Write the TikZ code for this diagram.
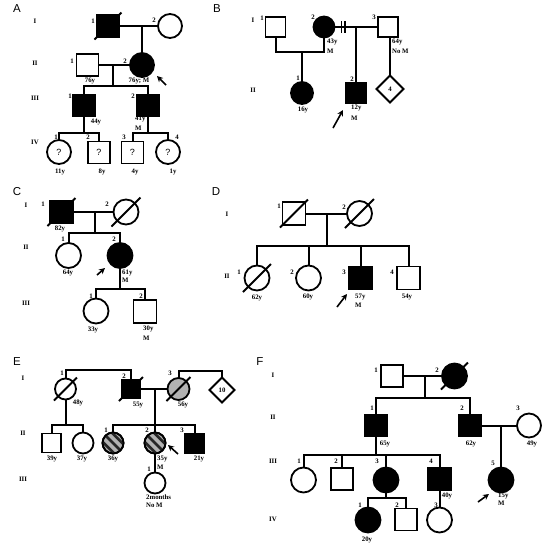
\documentclass[tikz,border=0pt]{standalone}
\usepackage{fontspec}
\setmainfont{Liberation Serif}
\newfontfamily\panelfont{Liberation Sans}
\usetikzlibrary{arrows.meta,shapes.geometric}
\newcommand\deceased[2][14]{\draw[dead] (#2.center) ++(-#1,#1) -- ++(2*#1,-2*#1);}
\newcommand\lb[4][lab]{\node[#1] (#2) at (#3) {#4};}
\newcommand\hatchit[2][9.6pt]{\begin{scope}\clip (#2.center) circle (#1);
  \foreach \k in {-2,...,2} \draw[line width=2.6pt, black!85] (#2.center) ++({4.6*\k-14},{-4.6*\k-14}) -- ++(28,28);
  \end{scope}}
\tikzset{
 sym/.style={draw, line width=1.8pt, inner sep=0pt, outer sep=0pt},
 sq/.style={sym, rectangle, minimum size=#1}, sq/.default=22pt,
 ci/.style={sym, circle, minimum size=#1}, ci/.default=24pt,
 aff/.style={fill=black},
 lab/.style={font=\bfseries\fontsize{6.8}{7}\selectfont, inner sep=0pt},
 labw/.style={lab, anchor=west},
 gen/.style={font=\bfseries\fontsize{6.8}{7}\selectfont, inner sep=0pt},
 panel/.style={font=\panelfont\fontsize{11.5}{13}\selectfont, inner sep=0pt},
 ln/.style={line width=2pt},
 dead/.style={line width=1.8pt},
 prob/.style={line width=1.6pt, -{Stealth[length=6pt,width=6pt]}},
 qm/.style={font=\panelfont\fontsize{9}{10}\selectfont},
 dia/.style={sym, diamond, minimum width=#1, minimum height=#1, font=\bfseries\fontsize{6.8}{7}\selectfont},
}
\begin{document}
\begin{tikzpicture}[x=1pt,y=-1pt]
\fill[white] (0,0) rectangle (548,550);
\useasboundingbox (0,0) rectangle (548,550);

% ================= A
\node[panel] (pA) at (17,9) {A};
\node[gen] (gA1) at (35,21) {I};
\node[gen] (gA2) at (35,63) {II};
\node[gen] (gA3) at (35,98) {III};
\node[gen] (gA4) at (35,142) {IV};
\node[sq,aff] (A11) at (108,26) {};
\node[ci] (A12) at (170,26) {};
\deceased[13.5]{A11}
\draw[ln] (A11) -- (A12);
\coordinate (mA1) at (142,26);
\node[sq] (A21) at (87.5,65) {};
\node[ci,aff] (A22) at (142,65) {};
\draw[ln] (mA1) -- (A22.north);
\draw[ln] (A21) -- (A22);
\coordinate (mA2) at (113,65);
\coordinate (sA2) at (113,86);
\draw[ln] (mA2) -- (sA2);
\node[sq,aff] (A31) at (84,105.5) {};
\node[sq,aff] (A32) at (148,105.5) {};
\draw[ln] (A31.north) |- (sA2) -| (A32.north);
\coordinate (sA3) at (84,133);
\coordinate (sA4) at (148,133);
\draw[ln] (A31.south) -- (sA3);
\draw[ln] (A32.south) -- (sA4);
\node[ci,qm] (A41) at (59,152) {?};
\node[sq,qm] (A42) at (99,152.5) {?};
\node[sq,qm] (A43) at (132.5,152.5) {?};
\node[ci,qm] (A44) at (168,152) {?};
\draw[ln] (A41.north) |- (sA3) -| (A42.north);
\draw[ln] (A43.north) |- (sA4) -| (A44.north);
\lb{tA11}{93,21}{1} \lb{tA12}{154,20}{2}
\lb{tA21}{72,61}{1} \lb{tA22}{125,61}{2}
\lb{tA21a}{90,81}{76y} \lb{tA22a}{139,81}{76y; M}
\lb{tA31}{70,96}{1} \lb{tA32}{133,96}{2}
\lb{tA31a}{96,122}{44y}
\lb[labw]{tA32a}{135,119}{41y} \lb[labw]{tA32b}{135,128}{M}
\lb{tA41}{56,137}{1} \lb{tA42}{88,137}{2} \lb{tA43}{124,137}{3} \lb{tA44}{177,137}{4}
\lb{tA41a}{60,172}{11y} \lb{tA42a}{102,172}{8y} \lb{tA43a}{135,172}{4y} \lb{tA44a}{173,172}{1y}
\coordinate (aA1) at (166,85); \coordinate (aA2) at (157,76);
\draw[prob] (aA1) -- (aA2);

% ================= B
\node[panel] (pB) at (217,9) {B};
\node[gen] (gB1) at (253,20) {I};
\node[gen] (gB2) at (253,90) {II};
\node[sq=20pt] (B11) at (275.5,27) {};
\node[ci=21pt,aff] (B12) at (324,27) {};
\node[sq=20pt] (B13) at (388,27) {};
\node[dia=27pt] (B14) at (390,89) {4};
\coordinate (Bb) at (302,52);
\draw[ln] (B11.south) |- (Bb) -| (B12.south);
\node[ci=22pt,aff] (B21) at (302,93) {};
\draw[ln] (Bb) -- (B21.north);
\draw[ln] (B12) -- (B13);
\draw[line width=1.4pt] (341.5,21) -- (341.5,33) (345,21) -- (345,33);
\coordinate (mB2) at (356,27);
\node[sq=20pt,aff] (B22) at (356,93) {};
\draw[ln] (mB2) -- (B22.north);
\draw[ln] (B14.north) -- (B14.north |- B13.south);
\lb{tB11}{262,18}{1} \lb{tB12}{313,17}{2} \lb{tB13}{374,17}{3}
\lb[labw]{tB12a}{327,42}{43y} \lb[labw]{tB12b}{327,51}{M}
\lb[labw]{tB13a}{392,42}{64y} \lb[labw]{tB13b}{392,51}{No M}
\lb{tB21}{298,78}{1} \lb{tB21a}{303,110}{16y}
\lb{tB22}{352,79}{2}
\lb[labw]{tB22a}{351,108}{12y} \lb[labw]{tB22b}{351,118}{M}
\coordinate (aB1) at (333,128); \coordinate (aB2) at (343,110);
\draw[prob] (aB1) -- (aB2);

% ================= C
\node[panel] (pC) at (17,192) {C};
\node[gen] (gC1) at (26,205) {I};
\node[gen] (gC2) at (26,247) {II};
\node[gen] (gC3) at (26,303) {III};
\node[sq=23pt,aff] (C11) at (61.5,212) {};
\node[ci=25pt] (C12) at (126,212) {};
\deceased{C11} \deceased[14.5]{C12}
\draw[ln] (C11) -- (C12);
\coordinate (mC1) at (95,212); \coordinate (sC1) at (95,233);
\draw[ln] (mC1) -- (sC1);
\node[ci=25pt] (C21) at (68.5,255.5) {};
\node[ci=25pt,aff] (C22) at (120,255.5) {};
\draw[ln] (C21.north) |- (sC1) -| (C22.north);
\coordinate (sC2) at (120,289);
\draw[ln] (C22.south) -- (sC2);
\node[ci=25pt] (C31) at (96,311) {};
\node[sq=23pt] (C32) at (145,311.5) {};
\draw[ln] (C31.north) |- (sC2) -| (C32.north);
\lb{tC11}{43,204}{1} \lb{tC12}{107,204}{2} \lb{tC11a}{60,229}{82y}
\lb{tC21}{63,239}{1} \lb{tC22}{114,239}{2} \lb{tC21a}{68,273}{64y}
\lb[labw]{tC22a}{122,273}{61y} \lb[labw]{tC22b}{122,280}{M}
\lb{tC31}{91,296}{1} \lb{tC32}{141,296}{2} \lb{tC31a}{93,330}{33y}
\lb[labw]{tC32a}{143,329}{30y} \lb[labw]{tC32b}{143,338}{M}
\coordinate (aC1) at (97,275); \coordinate (aC2) at (105,268);
\draw[prob] (aC1) -- (aC2);

% ================= D
\node[panel] (pD) at (216,192) {D};
\node[gen] (gD1) at (227,214) {I};
\node[gen] (gD2) at (227,276) {II};
\node[sq=23pt] (D11) at (294,213.5) {};
\node[ci=25pt] (D12) at (359.5,213.5) {};
\deceased{D11} \deceased[14.5]{D12}
\draw[ln] (D11) -- (D12);
\coordinate (mD1) at (327,213.5); \coordinate (sD1) at (327,246);
\draw[ln] (mD1) -- (sD1);
\node[ci=25pt] (D21) at (257,278) {};
\node[ci=25pt] (D22) at (308.5,278) {};
\node[sq=23pt,aff] (D23) at (360.5,278) {};
\node[sq=23pt] (D24) at (408.5,278) {};
\deceased{D21}
\draw[ln] (D21.north) |- (sD1) -| (D24.north);
\draw[ln] (D22.north) -- (D22.north |- sD1);
\draw[ln] (D23.north) -- (D23.north |- sD1);
\lb{tD11}{279,206}{1} \lb{tD12}{344,207}{2}
\lb{tD21}{239,272}{1} \lb{tD21a}{257,298}{62y}
\lb{tD22}{292,272}{2} \lb{tD22a}{308,297}{60y}
\lb{tD23}{344,272}{3}
\lb[labw]{tD23a}{355,297}{57y} \lb[labw]{tD23b}{355,305}{M}
\lb{tD24}{392,272}{4} \lb{tD24a}{407,297}{54y}
\coordinate (aD1) at (337,307); \coordinate (aD2) at (347,294);
\draw[prob] (aD1) -- (aD2);

% ================= E
\node[panel] (pE) at (17,362) {E};
\node[gen] (gE1) at (23,378) {I};
\node[gen] (gE2) at (23,433) {II};
\node[gen] (gE3) at (23,479) {III};
\node[ci=21pt] (E11) at (65.5,389) {};
\node[sq=19pt,aff] (E12) at (131,389) {};
\node[ci=22pt,fill=black!30] (E13) at (178.5,389) {};
\node[dia=25pt] (E14) at (222,390) {10};
\deceased[11.5]{E11} \deceased[12]{E12} \deceased[12]{E13}
\coordinate (Et1) at (65.5,370); \coordinate (Et2) at (178.5,371);
\draw[ln] (E11.north) -- (Et1) -| (E12.north);
\draw[ln] (E13.north) -- (Et2) -| (E14.north);
\draw[ln] (E12) -- (E13);
\coordinate (mE1) at (155,389); \coordinate (sE1) at (155,425);
\coordinate (sE0) at (65.5,425);
\draw[ln] (E11.south) -- (sE0);
\node[sq=19pt] (E21) at (51.5,443) {};
\node[ci=21pt] (E22) at (83,443) {};
\draw[ln] (E21.north) |- (sE0) -| (E22.north);
\node[ci=21pt,fill=black!30] (E23) at (113,443) {};
\node[ci=21pt,fill=black!30] (E24) at (155,443) {};
\hatchit{E23} \hatchit{E24}
\node[ci=21pt] (E23b) at (E23) {};
\node[ci=21pt] (E24b) at (E24) {};
\node[sq=19pt,aff] (E25) at (194.5,443.5) {};
\draw[ln] (mE1) -- (E24.north);
\draw[ln] (E23.north) |- (sE1) -| (E25.north);
\node[ci=21pt] (E31) at (155,483) {};
\draw[ln] (E24.south) -- (E31.north);
\lb{tE11}{62,373}{1} \lb{tE11a}{78,403}{48y}
\lb{tE12}{124,376}{2} \lb{tE12a}{138,405}{55y}
\lb{tE13}{170,373}{3} \lb{tE13a}{183,405}{56y}
\lb{tE21a}{52,459}{39y} \lb{tE22a}{82,459}{37y}
\lb{tE23}{106,430}{1} \lb{tE23a}{113,459}{36y}
\lb{tE24}{147,430}{2}
\lb[labw]{tE24a}{157,459}{35y} \lb[labw]{tE24b}{157,467}{M}
\lb{tE25}{182,430}{3} \lb{tE25a}{199,459}{21y}
\lb{tE31}{149,469}{1}
\lb[labw]{tE31a}{146,497}{2months} \lb[labw]{tE31b}{146,505}{No M}
\coordinate (aE1) at (178,454); \coordinate (aE2) at (168,445);
\draw[prob] (aE1) -- (aE2);

% ================= F
\node[panel] (pF) at (260,362) {F};
\node[gen] (gF1) at (273,375) {I};
\node[gen] (gF2) at (273,417) {II};
\node[gen] (gF3) at (273,461) {III};
\node[gen] (gF4) at (273,519) {IV};
\node[sq] (F11) at (392,376) {};
\node[ci=25pt,aff] (F12) at (454.5,376) {};
\deceased[13.5]{F12}
\draw[ln] (F11) -- (F12);
\coordinate (mF1) at (425,376); \coordinate (sF1) at (425,398);
\draw[ln] (mF1) -- (sF1);
\node[sq,aff] (F21) at (376,425.5) {};
\node[sq,aff] (F22) at (470,425.5) {};
\node[ci] (F23) at (529,425.5) {};
\draw[ln] (F21.north) |- (sF1) -| (F22.north);
\draw[ln] (F22) -- (F23);
\coordinate (mF2) at (501,425.5);
\node[ci=25pt,aff] (F35) at (501,480) {};
\draw[ln] (mF2) -- (F35.north);
\coordinate (sF2) at (376,455);
\draw[ln] (F21.south) -- (sF2);
\node[ci=25pt] (F31) at (303.5,480) {};
\node[sq] (F32) at (342,479) {};
\node[ci=25pt,aff] (F33) at (386,480) {};
\node[sq=23pt,aff] (F34) at (439.5,479) {};
\draw[ln] (F31.north) |- (sF2) -| (F34.north);
\draw[ln] (F32.north) -- (F32.north |- sF2);
\draw[ln] (F33.north) -- (F33.north |- sF2);
\coordinate (sF3) at (386,498);
\draw[ln] (F33.south) -- (sF3);
\node[ci=25pt,aff] (F41) at (368,520) {};
\node[sq] (F42) at (406,519.5) {};
\node[ci=25pt] (F43) at (439.5,520) {};
\draw[ln] (F41.north) |- (sF3) -| (F42.north);
\draw[ln] (F34.south) -- (F43.north);
\lb{tF11}{376,370}{1} \lb{tF12}{437,370}{2}
\lb{tF21}{372,408}{1} \lb{tF21a}{385,444}{65y}
\lb{tF22}{462,408}{2} \lb{tF22a}{471,444}{62y}
\lb{tF23}{518,408}{3} \lb{tF23a}{532,444}{49y}
\lb{tF31}{299,461}{1} \lb{tF32}{336,461}{2} \lb{tF33}{377,461}{3} \lb{tF34}{431,461}{4}
\lb{tF34a}{447,496}{40y}
\lb{tF35}{493,463}{5}
\lb[labw]{tF35a}{498,496}{15y} \lb[labw]{tF35b}{498,503}{M}
\lb{tF41}{360,505}{1} \lb{tF42}{397,505}{2} \lb{tF43}{436,505}{3}
\lb{tF41a}{367,540}{20y}
\coordinate (aF1) at (478,502); \coordinate (aF2) at (489,494);
\draw[prob] (aF1) -- (aF2);
\end{tikzpicture}
\end{document}
